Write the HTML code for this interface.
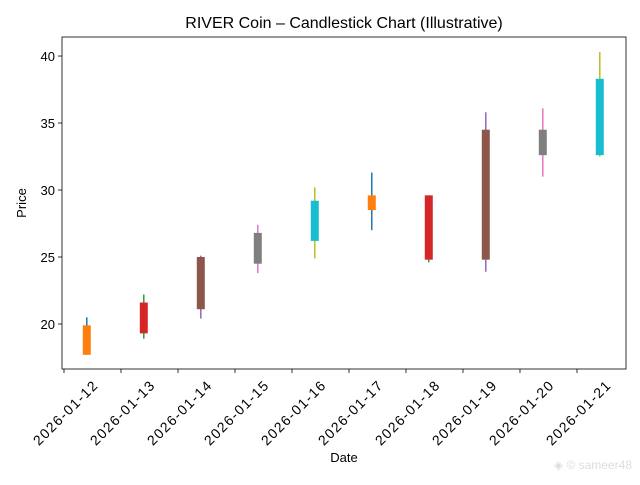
<!DOCTYPE html>
<html><head><meta charset="utf-8"><style>
body{margin:0;background:#fff}
svg text{font-family:"Liberation Sans","DejaVu Sans",sans-serif}
</style></head><body>
<svg id="c" width="640" height="480" xmlns="http://www.w3.org/2000/svg"></svg>
<script>
const dates=["2026-01-12","2026-01-13","2026-01-14","2026-01-15","2026-01-16","2026-01-17","2026-01-18","2026-01-19","2026-01-20","2026-01-21"];
const bodyLow=[17.7,19.3,21.1,24.5,26.2,28.5,24.8,24.8,32.6,32.6];
const bodyHigh=[19.9,21.6,25.0,26.8,29.2,29.6,29.6,34.5,34.5,38.3];
const lows=[17.7,18.9,20.4,23.8,24.9,27.0,24.6,23.9,31.0,32.5];
const highs=[20.5,22.2,25.1,27.4,30.2,31.3,29.6,35.8,36.1,40.3];
const yTicks=[20,25,30,35,40];
const colors=["#1f77b4","#ff7f0e","#2ca02c","#d62728","#9467bd","#8c564b","#e377c2","#7f7f7f","#bcbd22","#17becf"];
const L=62,R=626,T=37,B=369;
const xmin=-0.035,xmax=9.86,ymin=16.64,ymax=41.42;
const X=v=>L+(v-xmin)/(xmax-xmin)*(R-L);
const Y=v=>B-(v-ymin)/(ymax-ymin)*(B-T);
const s=document.getElementById('c');const NS="http://www.w3.org/2000/svg";
function mk(t,a,p){const e=document.createElementNS(NS,t);for(const k in a)e.setAttribute(k,a[k]);(p||s).appendChild(e);return e;}
const title=mk('text',{x:344,y:28,'text-anchor':'middle','font-size':16});title.textContent="RIVER Coin – Candlestick Chart (Illustrative)";


dates.forEach((d,i)=>{
  const cx=X(i+0.4);
  const w=mk('line',{x1:cx,x2:cx,y1:Y(lows[i]),y2:Y(highs[i]),stroke:colors[(2*i)%10],'stroke-width':1.5});
  
  
  const b=mk('rect',{x:cx-4,y:Y(bodyHigh[i]),width:8,height:Y(bodyLow[i])-Y(bodyHigh[i]),fill:colors[(2*i+1)%10]});
  
  
  const tx=X(i);
  mk('line',{x1:tx,x2:tx,y1:B,y2:B+4,stroke:'#000','stroke-width':0.8});
  const lb=mk('text',{x:0,y:0,'font-size':14,'text-anchor':'middle','dominant-baseline':'central',textLength:84,transform:`translate(${tx+1},${B+44}) rotate(-45)`});
  lb.textContent=d;
  
  
});
yTicks.forEach(v=>{
  const y=Y(v);
  mk('line',{x1:L-4,x2:L,y1:y,y2:y,stroke:'#000','stroke-width':0.8});
  const t=mk('text',{x:L-7,y:y+5,'font-size':13,'text-anchor':'end'});t.textContent=v;
  
  
});
const ax=mk('rect',{x:L,y:T,width:R-L,height:B-T,fill:'none',stroke:'#000','stroke-width':0.8});


const xl=mk('text',{x:344,y:462,'text-anchor':'middle','font-size':13});xl.textContent="Date";


const yl=mk('text',{x:0,y:0,'text-anchor':'middle','font-size':13,transform:'translate(26,203) rotate(-90)'});yl.textContent="Price";


const wm=mk('text',{x:632,y:469,'text-anchor':'end','font-size':12,fill:'#ddd'});wm.textContent="◈ © sameer48";


</script>
</body></html>
